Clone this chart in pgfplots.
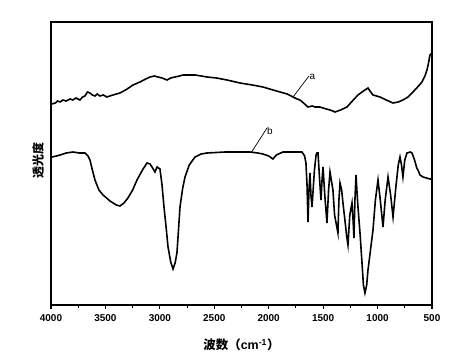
\documentclass[border=0pt]{standalone}
\usepackage{fontspec}
\setmainfont{Liberation Sans}
\newfontfamily\cjk{Noto Sans CJK SC}
\usepackage{pgfplots}
\pgfplotsset{compat=1.18}
\begin{document}
\begin{tikzpicture}
\begin{axis}[
  scale only axis, width=381bp, height=283bp,
  x dir=reverse, xmin=500, xmax=4000, ymin=-305, ymax=-22,
  xtick={500,1000,...,4000}, minor x tick num=1,
  ytick=\empty, xtick pos=bottom, tick align=outside,
  major tick length=4bp, minor tick length=3bp,
  every tick/.style={line width=1.1pt, black},
  axis line style={line width=1.3pt},
  /pgf/number format/1000 sep={},
  /pgf/number format/assume math mode=true,
  xticklabel style={font=\fontsize{10}{11}\selectfont\bfseries, yshift=-2bp},
  xlabel={{\cjk\bfseries 波数（}{\bfseries cm\textsuperscript{-1}}{\cjk\bfseries ）}},
  xlabel style={at={(axis description cs:0.5,-0.141)}, anchor=center, font=\fontsize{12.5}{13}\selectfont},
  ylabel={{\cjk\bfseries 透光度}},
  ylabel style={at={(axis description cs:-0.034,0.51)}, anchor=center, font=\fontsize{12}{13}\selectfont},
  clip=false,
]
\addplot[black, line width=1.6pt] coordinates {
(3994,-104) (3960,-103) (3940,-101) (3917,-102) (3890,-100) (3860,-101) (3825,-99) (3800,-100)
(3770,-98) (3734,-100) (3710,-97) (3688,-96) (3665,-92) (3642,-93) (3620,-95) (3596,-96)
(3575,-94) (3550,-96) (3520,-95) (3486,-97) (3460,-96) (3430,-95) (3400,-94) (3366,-93)
(3300,-89) (3247,-85) (3182,-82) (3130,-79) (3091,-77) (3050,-76) (3017,-77) (2980,-78) (2934,-80)
(2900,-78) (2861,-77) (2820,-76) (2787,-75) (2730,-75) (2677,-75) (2620,-76) (2567,-77)
(2480,-78) (2383,-80) (2264,-83) (2150,-85) (2053,-87) (1960,-90) (1896,-92) (1830,-94)
(1777,-97) (1740,-99) (1713,-100) (1680,-103) (1650,-106) (1639,-107) (1600,-106) (1575,-107)
(1530,-107) (1501,-108) (1470,-109) (1437,-110) (1410,-111) (1391,-112) (1340,-110) (1281,-107)
(1240,-102) (1180,-95) (1130,-91) (1088,-88) (1070,-91) (1042,-95) (1010,-96) (978,-97)
(920,-100) (858,-103) (810,-102) (767,-100) (720,-97) (684,-93) (640,-88) (592,-82)
(565,-76) (546,-70) (530,-62) (519,-55) (500,-53)
};
\addplot[black, line width=1.6pt] coordinates {
(3991,-157) (3950,-156) (3917,-155) (3860,-153) (3798,-152) (3740,-153) (3688,-153)
(3660,-156) (3642,-160) (3620,-170) (3596,-180) (3560,-190) (3522,-195) (3458,-201)
(3400,-205) (3366,-206) (3330,-203) (3293,-198) (3250,-190) (3210,-180) (3160,-170)
(3118,-163) (3090,-164) (3072,-167) (3045,-172) (3026,-167) (2999,-169) (2980,-185)
(2962,-207) (2940,-230) (2925,-247) (2900,-262) (2879,-269) (2860,-263) (2843,-253)
(2830,-232) (2815,-207) (2790,-188) (2769,-177) (2730,-165) (2677,-157) (2620,-154)
(2567,-153) (2400,-152) (2172,-152) (2100,-153) (2053,-154) (2000,-156) (1961,-159)
(1930,-155) (1869,-152) (1780,-152) (1694,-152) (1670,-156) (1658,-163) (1648,-185)
(1639,-222) (1630,-190) (1621,-173) (1612,-195) (1602,-207) (1580,-170) (1565,-155)
(1557,-153) (1547,-153) (1535,-175) (1520,-200) (1510,-180) (1501,-167) (1485,-195)
(1465,-223) (1450,-190) (1437,-172) (1425,-180) (1410,-190) (1395,-215) (1364,-233)
(1355,-200) (1345,-183) (1330,-190) (1318,-203) (1300,-220) (1285,-235) (1272,-245)
(1255,-215) (1235,-203) (1225,-220) (1217,-238) (1208,-200) (1198,-175) (1190,-190)
(1180,-207) (1160,-235) (1143,-263) (1130,-285) (1116,-293) (1100,-285) (1088,-270)
(1065,-250) (1042,-230) (1020,-200) (996,-180) (975,-200) (950,-227) (930,-200) (904,-177)
(880,-195) (858,-217) (830,-185) (810,-165) (794,-157) (780,-165) (767,-177) (750,-160)
(730,-153) (700,-152) (684,-153) (660,-160) (640,-168) (629,-170) (610,-175) (583,-177)
(550,-178) (519,-179) (500,-179)
};
\draw[black, line width=0.7pt] (axis cs:1777,-97) -- (axis cs:1630,-76);
\node[anchor=west, inner sep=1pt, font=\fontsize{10}{11}\selectfont] at (axis cs:1635,-77) {a};
\draw[black, line width=0.7pt] (axis cs:2163,-153) -- (axis cs:2016,-128);
\node[anchor=west, inner sep=1pt, font=\fontsize{10}{11}\selectfont] at (axis cs:2025,-131) {b};
\end{axis}
\path[use as bounding box] ([xshift=-51bp,yshift=-56bp]current axis.south west) rectangle ([xshift=42bp,yshift=22bp]current axis.north east);
\end{tikzpicture}
\end{document}
